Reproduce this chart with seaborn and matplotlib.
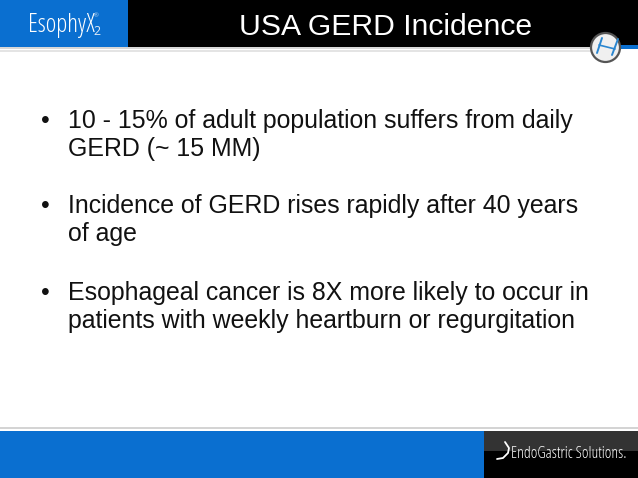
import matplotlib
matplotlib.use("Agg")
import matplotlib.pyplot as plt
from matplotlib.patches import Rectangle, Circle
import seaborn as sns

title = "USA GERD Incidence"
bullet_lines = [
    ["10 - 15% of adult population suffers from daily", "GERD (~ 15 MM)"],
    ["Incidence of GERD rises rapidly after 40 years", "of age"],
    ["Esophageal cancer is 8X more likely to occur in", "patients with weekly heartburn or regurgitation"],
]
bullet_baselines = [[128, 156], [213, 241], [300, 328]]

sns.set_theme(style="white")
plt.rcParams["font.family"] = ["Liberation Sans", "DejaVu Sans"]

fig = plt.figure(figsize=(6.38, 4.78), dpi=100)
ax = fig.add_axes([0, 0, 1, 1])
ax.set_xlim(0, 638)
ax.set_ylim(478, 0)
ax.axis("off")

BLUE = "#0a6fd0"
def box(x, y, w, h, c, z=1):
    ax.add_patch(Rectangle((x, y), w, h, fc=c, ec="none", zorder=z))

# header
box(0, 0, 128, 47, BLUE)
box(128, 0, 510, 47, "black")
box(0, 47, 590, 1.5, "#d8d8d8")
box(0, 49.5, 590, 2.5, "#e4e4e4")
box(620, 45, 18, 4, BLUE)
ax.text(27.5, 32, "EsophyX", color="white", fontsize=18.3, family="Open Sans", stretch="condensed", ha="left", va="baseline")
ax.text(93, 35, "2", color="#dfeaf6", fontsize=9, family="Open Sans", ha="left", va="baseline")
ax.text(93.5, 17, "®", color="#dfeaf6", fontsize=4.5, ha="left", va="baseline")
ax.text(385.5, 35, title, color="white", fontsize=21.7, ha="center", va="baseline")

# round badge
ax.add_patch(Circle((605.5, 47.5), 14.5, fc="#f0f0f0", ec="#555555", lw=1.6, zorder=3))
ax.plot([597, 602], [53, 38], color="#2a86d0", lw=1.4, zorder=4)
ax.plot([612, 618], [55, 39], color="#2a86d0", lw=1.4, zorder=4)
ax.plot([599, 615], [45, 49], color="#2a86d0", lw=1.2, zorder=4)

# body
for lines, ys in zip(bullet_lines, bullet_baselines):
    ax.text(41, ys[0], "•", color="#111111", fontsize=17.95, ha="left", va="baseline")
    for line, y in zip(lines, ys):
        ax.text(67.5, y, line, color="#111111", fontsize=17.95, ha="left", va="baseline")

# footer
box(0, 427, 638, 1.6, "#d4d4d4")
box(0, 431, 484, 47, BLUE)
box(484, 431, 154, 20, "#333333")
box(484, 451, 154, 27, "black")
ax.text(511, 458, "EndoGastric Solutions.", color="white", fontsize=11.3, family="Open Sans", stretch="condensed", ha="left", va="baseline")
ax.plot([497, 503, 508, 509, 505], [459, 458, 453, 448, 442], color="white", lw=1.3)

fig.savefig("out.png", dpi=100, facecolor="white")
